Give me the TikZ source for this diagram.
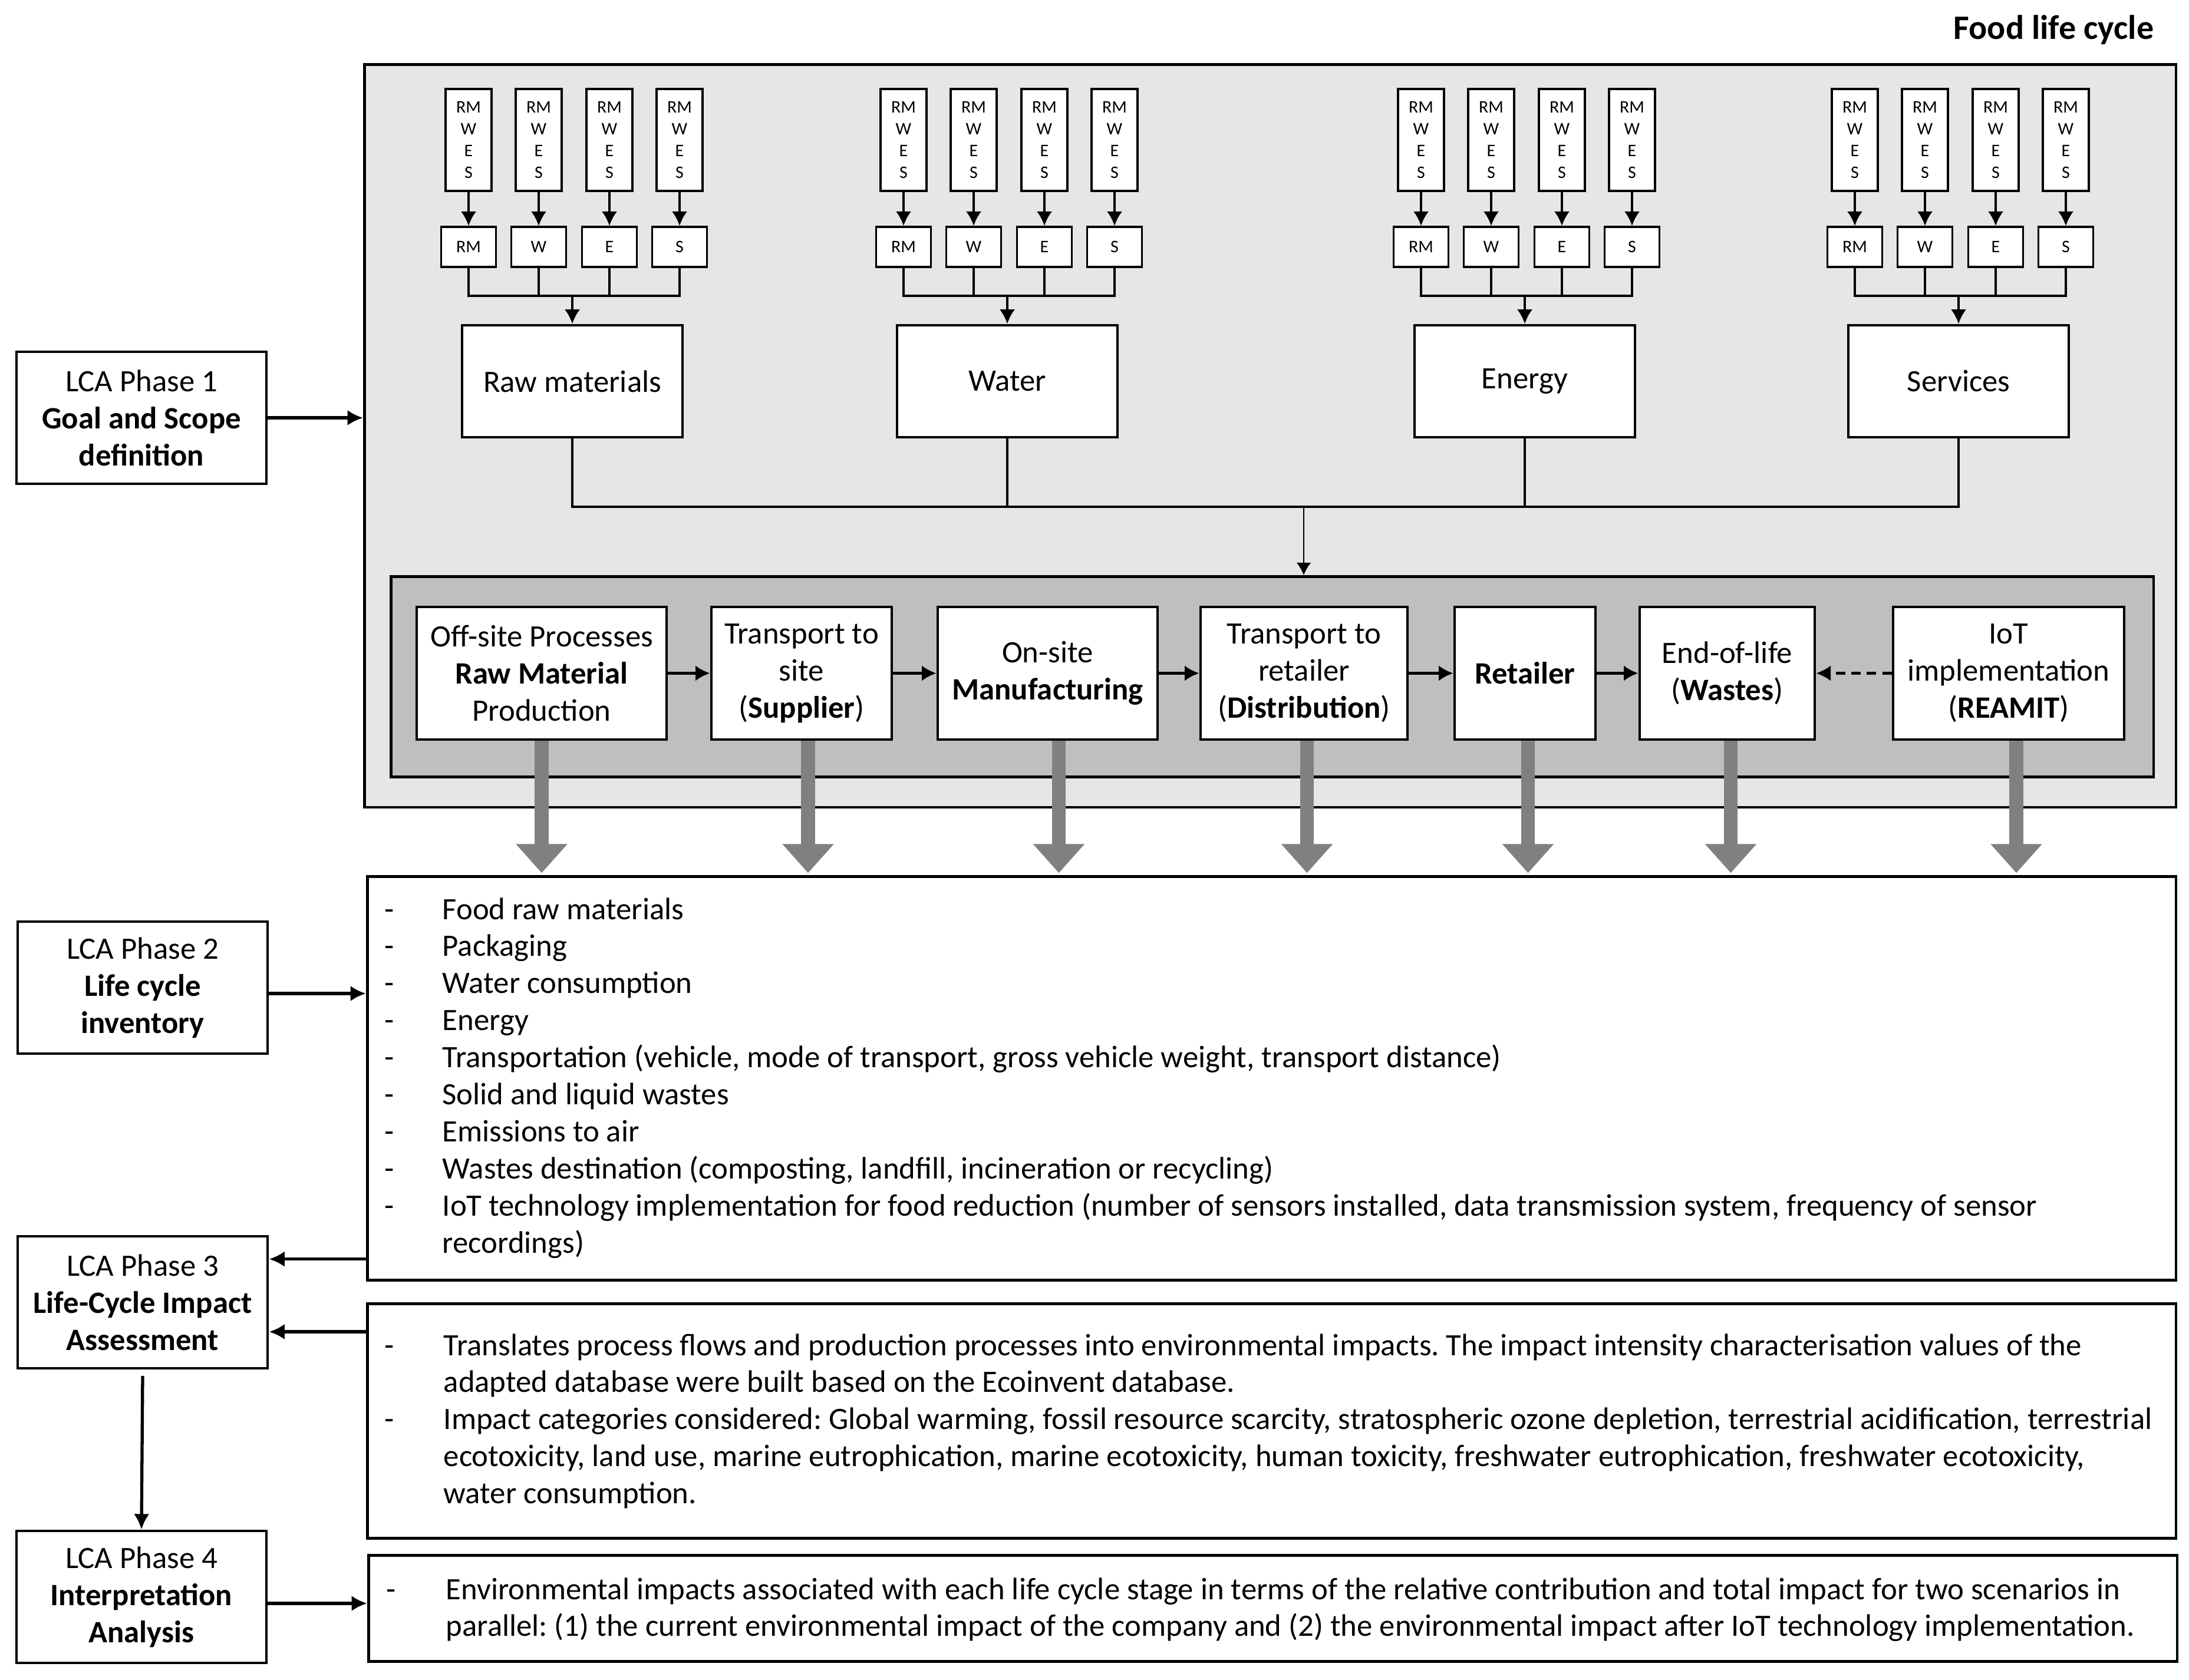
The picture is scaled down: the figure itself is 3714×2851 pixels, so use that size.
\documentclass[tikz,border=0pt]{standalone}
\usepackage{fontspec}
\setmainfont{Carlito}
\usetikzlibrary{arrows.meta,calc}
\frenchspacing
\newdimen\pu \pu=0.28453pt
\definecolor{lgray}{RGB}{230,230,230}
\definecolor{mgray}{RGB}{191,191,191}
\definecolor{dgray}{RGB}{128,128,128}
\newcommand\mainfs{\fontsize{15}{17.9}\selectfont}
\newcommand\phfs{\fontsize{15}{17.9}\selectfont}
\newcommand\smfs{\fontsize{8.5}{10.5}\selectfont}
\newcommand\ttlfs{\fontsize{16.5}{20}\selectfont\bfseries}
\tikzset{
 sz/.style 2 args={minimum width=#1\pu, minimum height=#2\pu},
 bx/.style={draw, line width=1.3pt, fill=white, inner sep=0pt, align=center, font=\mainfs},
 phbox/.style={draw, line width=1.3pt, fill=white, inner sep=0pt, align=center, font=\phfs, minimum width=424\pu, minimum height=224\pu},
 tallbox/.style={draw, line width=0.9pt, fill=white, inner sep=0pt, align=center, font=\smfs, minimum width=78\pu, minimum height=173\pu},
 smallbox/.style={draw, line width=0.9pt, fill=white, inner sep=0pt, font=\smfs, minimum width=93\pu, minimum height=68\pu},
 arr/.style={line width=1.5pt, -{Latex[length=7.5pt,width=7.5pt]}},
 sarr/.style={line width=1.2pt, -{Latex[length=7pt,width=7.5pt]}},
 tarr/.style={line width=0.6pt, -{Latex[length=6pt,width=7pt]}},
 bus/.style={line width=1.1pt},
 garr/.style={draw=dgray, line width=6.8pt, -{Triangle[length=14pt,width=24pt]}, color=dgray, shorten >=1pt},
 lst/.style={anchor=base west, inner sep=0pt, font=\mainfs, align=left},
 panel/.style={draw, line width=1.3pt, anchor=north west, inner sep=0pt},
}
\begin{document}
\begin{tikzpicture}[x=0.01cm, y=-0.01cm]
\useasboundingbox (0,0) rectangle (3714,2851);

% title
\node[anchor=base east, inner sep=0pt, font=\ttlfs] (title) at (3655,66) {Food life cycle};

% containers
\node[panel, fill=lgray, sz={3072}{1260}] (outer) at (616,107) {};
\node[panel, fill=mgray, sz={2989}{340}] (inner) at (661,976) {};

% resource groups
\foreach \cx/\lab [count=\g] in {971/Raw materials,1709/Water,2587/Energy,3323/Services}{
  \node[bx, sz={374}{190}] (m\g) at (\cx,647) {\lab};
  \foreach \dx/\sl [count=\k] in {-176/RM,-57/W,63/E,182/S}{
    \node[tallbox] (t\g\k) at (\cx+\dx,237.5) {RM\\W\\E\\S};
    \node[smallbox] (s\g\k) at (\cx+\dx,419) {\sl};
    \draw[sarr] (t\g\k) -- (s\g\k);
  }
  \coordinate (b\g) at (\cx,502);
  \draw[bus] (s\g1.south) |- (b\g) -| (s\g4.south);
  \draw[bus] (s\g2.south) -- (s\g2.south |- b\g);
  \draw[bus] (s\g3.south) -- (s\g3.south |- b\g);
  \draw[sarr] (b\g) -- (m\g.north);
}

% main bus
\coordinate (mb) at (2212,860);
\draw[bus] (m1.south) |- (mb) -| (m4.south);
\draw[bus] (m2.south) -- (m2.south |- mb);
\draw[bus] (m3.south) -- (m3.south |- mb);
\draw[tarr] (mb) -- (mb |- inner.north);

% process boxes
\node[bx, sz={424}{225}] (p1) at (919,1142.5) {Off-site Processes\\\textbf{Raw Material}\\Production};
\node[bx, sz={306}{225}] (p2) at (1360,1142.5) {Transport to\\site\\(\textbf{Supplier})};
\node[bx, sz={373}{225}] (p3) at (1777.5,1142.5) {On-site\\\textbf{Manufacturing}};
\node[bx, sz={351}{225}] (p4) at (2212.5,1142.5) {Transport to\\retailer\\(\textbf{Distribution})};
\node[bx, sz={239}{225}] (p5) at (2587.5,1142.5) {\textbf{Retailer}};
\node[bx, sz={297}{225}] (p6) at (2930.5,1142.5) {End-of-life\\(\textbf{Wastes})};
\node[bx, sz={392}{225}] (p7) at (3408,1142.5) {IoT\\implementation\\(\textbf{REAMIT})};

\foreach \a/\b in {1/2,2/3,3/4,4/5,5/6}
  \draw[sarr] (p\a.east) -- (p\b.west);
\draw[sarr, dash pattern=on 4.5pt off 3pt] (p7.west) -- (p6.east);

% lower panels
\node[panel, fill=white, sz={3067}{685}] (inv) at (621,1485) {};
\node[panel, fill=white, sz={3067}{398}] (imp) at (621,2210) {};
\node[panel, fill=white, sz={3067}{180}] (interp) at (623,2637) {};

% grey arrows
\foreach \i/\s in {1/0,2/11,3/19,4/5,5/5,6/6,7/13}
  \draw[garr] ([xshift=\s\pu]p\i.south) -- ([xshift=\s\pu]p\i.south |- inv.north);

% phase boxes
\node[phbox] (ph1) at (240,709) {LCA Phase 1\\\textbf{Goal and Scope}\\\textbf{definition}};
\node[phbox] (ph2) at (242,1676) {LCA Phase 2\\\textbf{Life cycle}\\\textbf{inventory}};
\node[phbox] (ph3) at (242,2210) {LCA Phase 3\\\textbf{Life-Cycle Impact}\\\textbf{Assessment}};
\node[phbox] (ph4) at (240,2710) {LCA Phase 4\\\textbf{Interpretation}\\\textbf{Analysis}};

\draw[arr] (ph1.east) -- (ph1.east -| outer.west);
\draw[arr] ([yshift=-10\pu]ph2.east) -- ([yshift=-10\pu]ph2.east -| inv.west);
\coordinate (a3) at ($(ph3.north east)+(0,41)$);
\draw[arr] (a3 -| inv.west) -- (a3);
\coordinate (a3b) at ($(ph3.east)+(0,50)$);
\draw[arr] (a3b -| imp.west) -- (a3b);
\draw[arr] ([yshift=-3pt]ph3.south) -- (ph4.north);
\draw[arr] ([yshift=-11\pu]ph4.east) -- ([yshift=-11\pu]ph4.east -| interp.west);

% texts
\node[lst] (invtxt) at (652,1560) {\begin{tabular}[t]{@{}p{98\pu}@{}l@{}}
-&Food raw materials\\
-&Packaging\\
-&Water consumption\\
-&Energy\\
-&Transportation (vehicle, mode of transport, gross vehicle weight, transport distance)\\
-&Solid and liquid wastes\\
-&Emissions to air\\
-&Wastes destination (composting, landfill, incineration or recycling)\\
-&IoT technology implementation for food reduction (number of sensors installed, data transmission system, frequency of sensor\\
&recordings)
\end{tabular}};
\node[lst] (imptxt) at (652,2300) {\begin{tabular}[t]{@{}p{100\pu}@{}l@{}}
-&Translates process flows and production processes into environmental impacts. The impact intensity characterisation values of the\\
&adapted database were built based on the Ecoinvent database.\\
-&Impact categories considered: Global warming, fossil resource scarcity, stratospheric ozone depletion, terrestrial acidification, terrestrial\\
&ecotoxicity, land use, marine eutrophication, marine ecotoxicity, human toxicity, freshwater eutrophication, freshwater ecotoxicity,\\
&water consumption.
\end{tabular}};
\node[lst] (interptxt) at (655,2714) {\begin{tabular}[t]{@{}p{101\pu}@{}l@{}}
-&Environmental impacts associated with each life cycle stage in terms of the relative contribution and total impact for two scenarios in\\
&parallel: (1) the current environmental impact of the company and (2) the environmental impact after IoT technology implementation.
\end{tabular}};
\end{tikzpicture}
\end{document}
